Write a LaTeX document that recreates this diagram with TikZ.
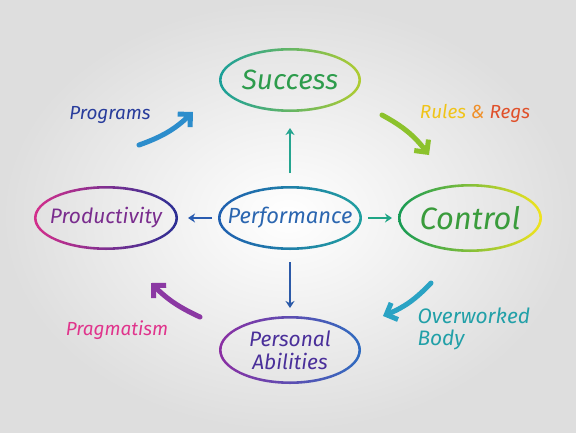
\documentclass[tikz,border=0pt]{standalone}
\usepackage{fontspec}
\setmainfont{Fira Sans}
\usetikzlibrary{shapes.geometric,arrows.meta}
\definecolor{succL}{HTML}{1A9F9A}
\definecolor{succR}{HTML}{B0CC30}
\definecolor{succTxt}{HTML}{2D9C4C}
\definecolor{perfL}{HTML}{1F5FB0}
\definecolor{perfR}{HTML}{20A0A0}
\definecolor{perfTxt}{HTML}{2B66B0}
\definecolor{prodL}{HTML}{D42F8C}
\definecolor{prodR}{HTML}{2A2F94}
\definecolor{prodTxt}{HTML}{7A2D8E}
\definecolor{ctrlL}{HTML}{159A55}
\definecolor{ctrlR}{HTML}{F2E41E}
\definecolor{ctrlTxt}{HTML}{3A9C3C}
\definecolor{persL}{HTML}{8B2FA3}
\definecolor{persR}{HTML}{2F6CC0}
\definecolor{persTxt}{HTML}{4A2F9A}
\definecolor{upCol}{HTML}{25A590}
\definecolor{leftCol}{HTML}{2A5CB0}
\definecolor{rightCol}{HTML}{1FA585}
\definecolor{downCol}{HTML}{2C5AA8}
\definecolor{progCol}{HTML}{2C8DCC}
\definecolor{ruleCol}{HTML}{8CC22C}
\definecolor{pragCol}{HTML}{8B38A3}
\definecolor{overCol}{HTML}{2AA3C4}
\definecolor{progTxt}{HTML}{283C9C}
\definecolor{ruleY}{HTML}{F0C41A}
\definecolor{ruleO}{HTML}{F0902A}
\definecolor{ruleR}{HTML}{E0502A}
\definecolor{pragTxt}{HTML}{E0348C}
\definecolor{overTxt}{HTML}{22A0A8}
\begin{document}
\begin{tikzpicture}[x=1bp,y=1bp,node distance=138bp]
\tikzstyle{oval} = [ellipse, minimum width=142bp, minimum height=64bp, inner sep=0pt, font=\itshape\fontsize{22}{24}\selectfont]
\tikzstyle{tag} = [font=\itshape\fontsize{19}{22}\selectfont]
\tikzstyle{small} = [-{Stealth[length=7bp,width=9bp]}, line width=1.6bp]
\tikzstyle{big} = [-{Straight Barb[length=9bp,width=18bp]}, line width=5bp, line cap=round]
% background
\shade[inner color=white, outer color=black!13] (0,0) rectangle (576,432);
\useasboundingbox (0,0) rectangle (576,432);

\node (perf)[oval, text=perfTxt] at (290,214) {Performance};
\node (succ)[oval, text=succTxt, above of=perf, font=\itshape\fontsize{28}{30}\selectfont] {Success};
\node (pers)[oval, text=persTxt, below of=perf, node distance=132bp, align=center, font=\itshape\fontsize{21}{23}\selectfont] {Personal\\Abilities};
\node (prod)[oval, text=prodTxt, left of=perf, node distance=184bp, font=\itshape\fontsize{21}{23}\selectfont] {Productivity};
\node (ctrl)[oval, text=ctrlTxt, right of=perf, node distance=180bp, font=\itshape\fontsize{31}{33}\selectfont] {Control};

% rings round the ovals
\foreach \n/\rx/\ry/\cl/\cr in {succ/71/32/succL/succR, perf/72/32/perfL/perfR, prod/72/32/prodL/prodR, ctrl/72/34/ctrlL/ctrlR, pers/71/34/persL/persR}
  \shade[left color=\cl, right color=\cr, even odd rule]
    (\n.center) ellipse [x radius=\rx bp, y radius=\ry bp]
    (\n.center) ellipse [x radius={(\rx-2.6)*1bp}, y radius={(\ry-2.6)*1bp}];

% short arrows out of the middle
\draw[small, upCol, shorten <=45bp, shorten >=48bp] (perf.center) -- (succ.center);
\draw[small, leftCol, shorten <=78bp, shorten >=82bp] (perf.center) -- (prod.center);
\draw[small, rightCol, shorten <=78bp, shorten >=78bp] (perf.center) -- (ctrl.center);
\draw[small, downCol, shorten <=44bp, shorten >=42bp] (perf.center) -- (pers.center);

% curved arrows
\coordinate (pgA) at (139,287); \coordinate (pgB) at (193,320);
\coordinate (rrA) at (382,317); \coordinate (rrB) at (429,277);
\coordinate (prA) at (200,115); \coordinate (prB) at (151,149);
\coordinate (owA) at (431,149); \coordinate (owB) at (383,116);
\draw[big, progCol] (pgA) to[bend right=12] (pgB);
\draw[big, ruleCol] (rrA) to[bend left=12] (rrB);
\draw[big, pragCol] (prA) to[bend left=10] (prB);
\draw[big, overCol] (owA) to[bend left=12] (owB);

\node (lprog)[tag, text=progTxt] at (110,317) {Programs};
\node (lrule)[tag] at (475,319) {\color{ruleY}Rules \color{ruleO}\& \color{ruleR}Regs};
\node (lprag)[tag, text=pragTxt] at (117,102) {Pragmatism};
\node (lover)[tag, text=overTxt, align=left, anchor=west, font=\itshape\fontsize{21}{22}\selectfont] at (414,103) {Overworked\\Body};
\end{tikzpicture}
\end{document}
